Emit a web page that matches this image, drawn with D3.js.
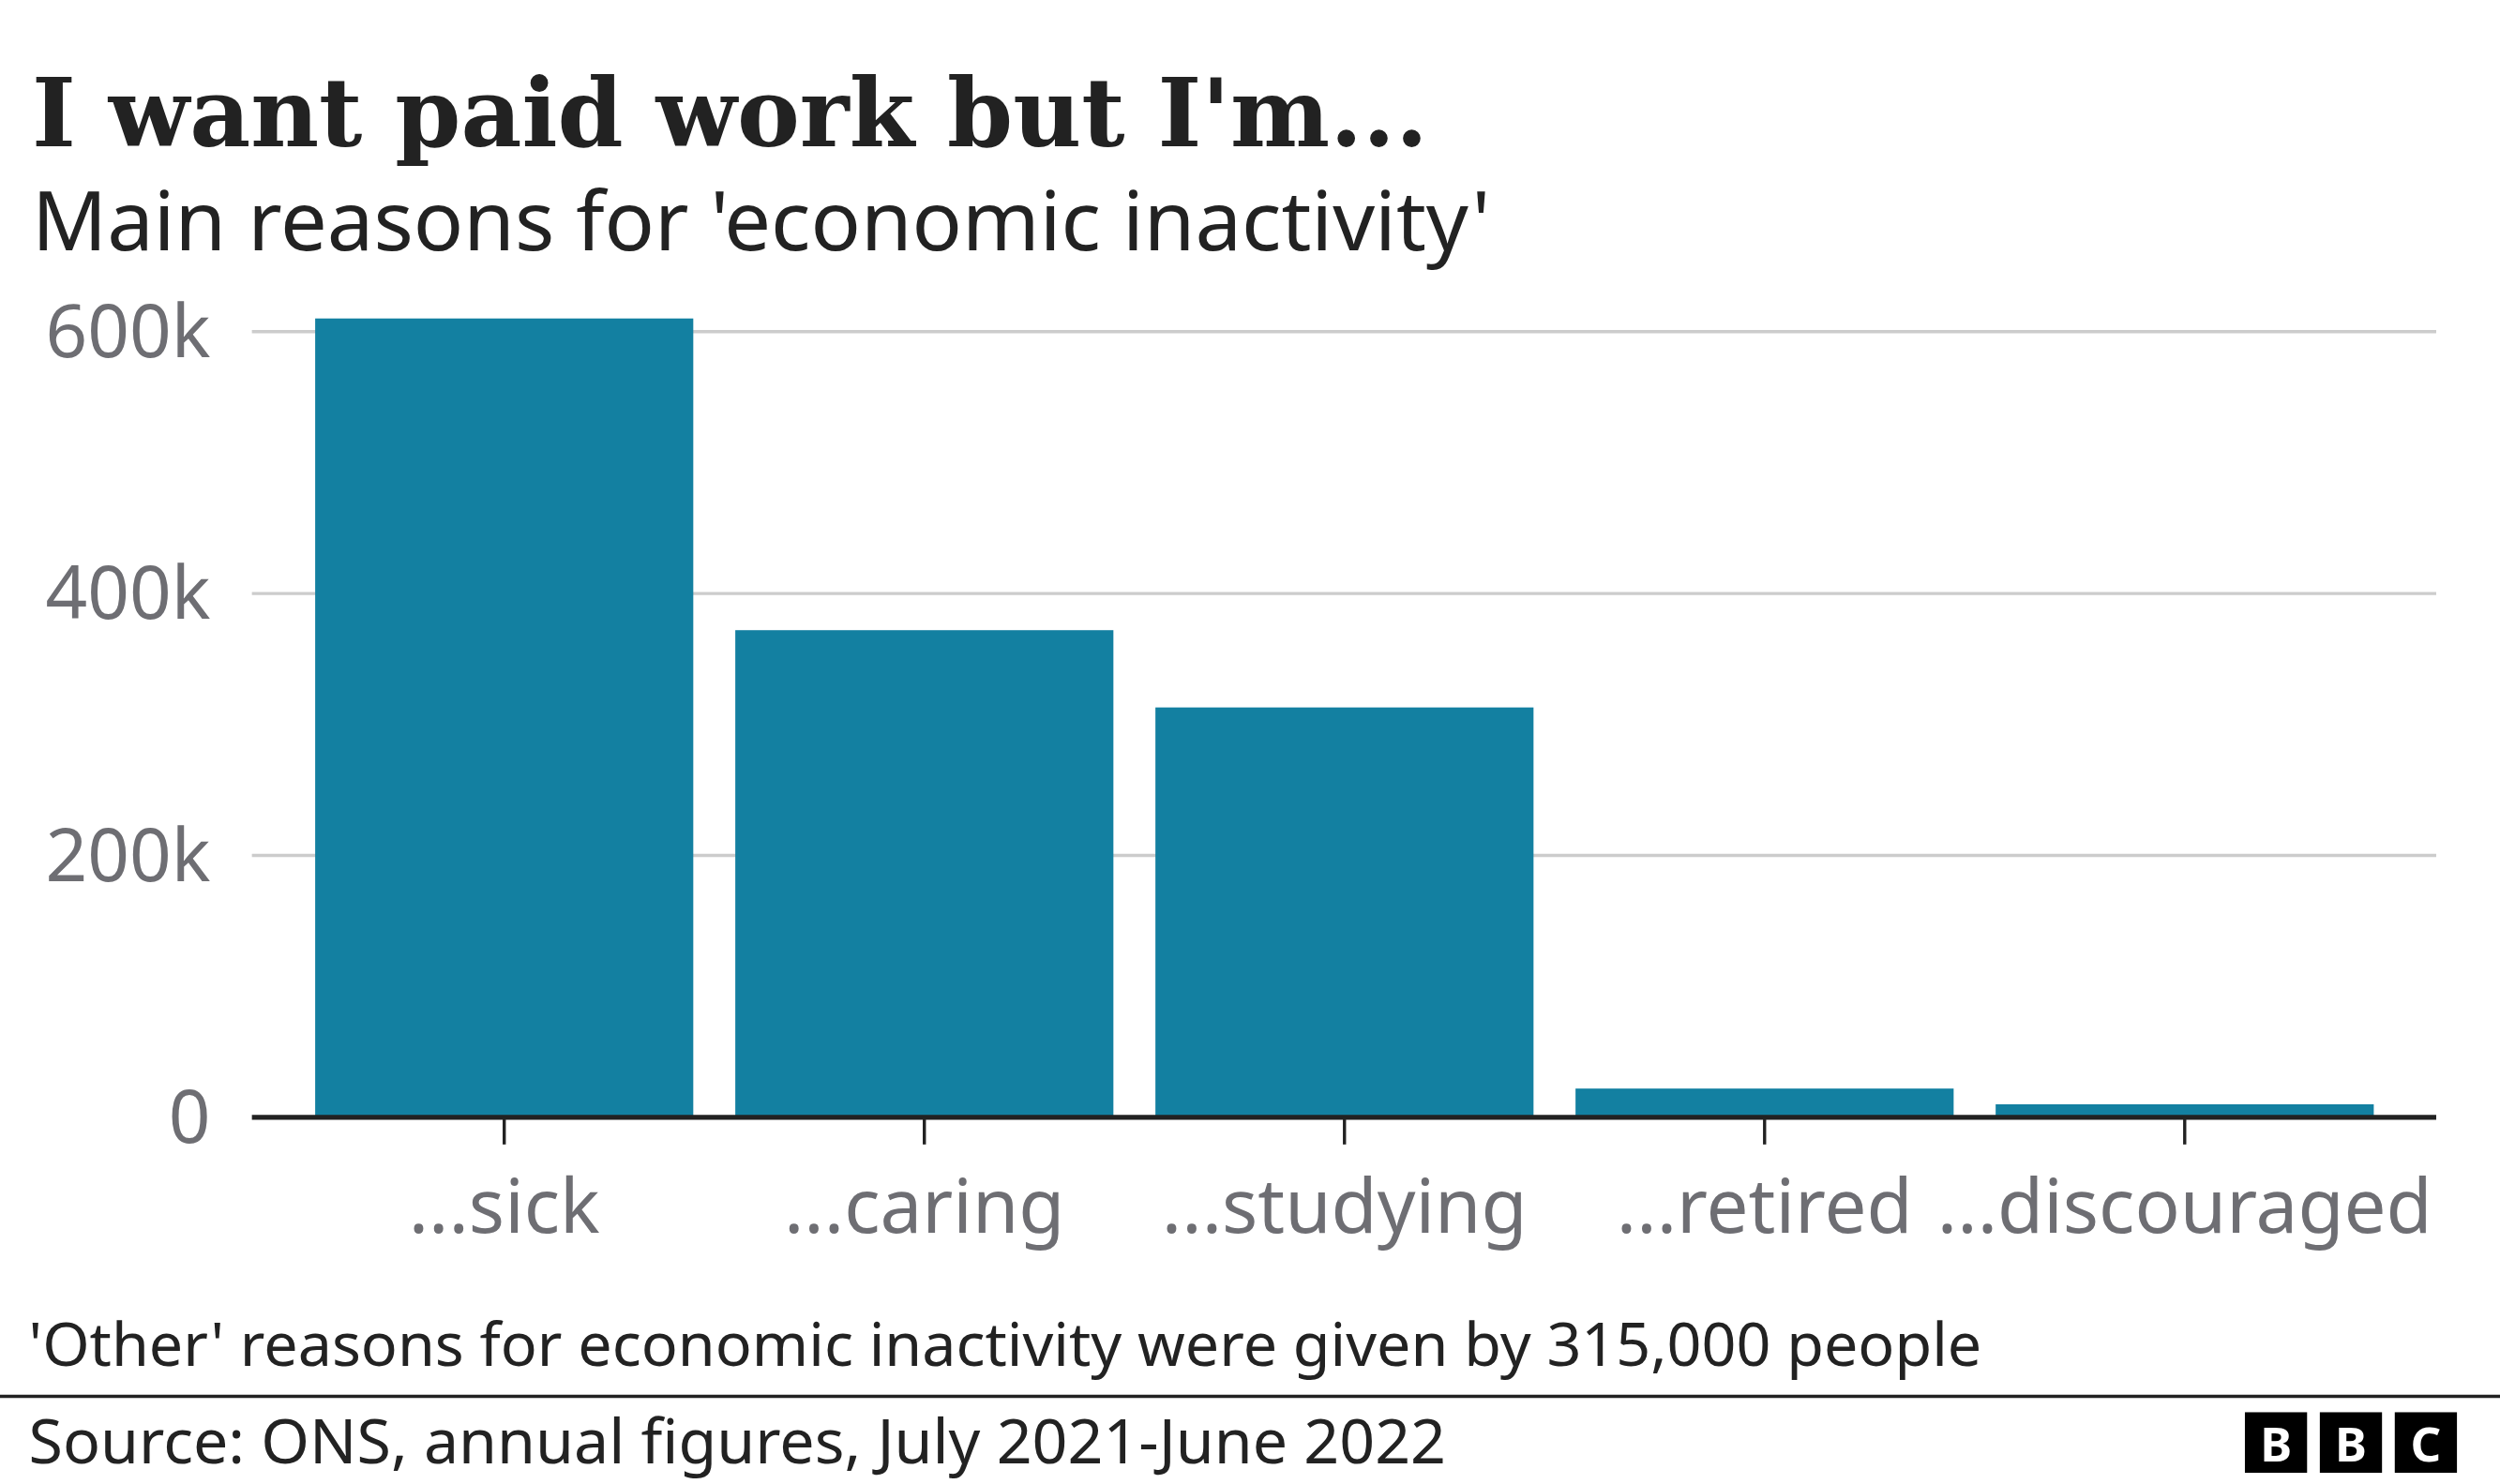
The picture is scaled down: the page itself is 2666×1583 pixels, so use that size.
<!DOCTYPE html>
<html>
<head>
<meta charset="utf-8">
<script src="https://cdn.jsdelivr.net/npm/d3@7"></script>
<style>
  html, body { margin: 0; padding: 0; background: #fff; }
  svg { display: block; }
  text { font-family: "Noto Sans", "Open Sans", sans-serif; }
</style>
</head>
<body>
<svg id="chart" width="2666" height="1583" viewBox="0 0 1568 931"></svg>
<script>
// chart data
const categories = ["...sick", "...caring", "...studying", "...retired", "...discouraged"];
const values = [610000, 372000, 313000, 22000, 10000];
const yTicks = [0, 200000, 400000, 600000];
const yTickLabels = ["0", "200k", "400k", "600k"];

const svg = d3.select("#chart");

// titles
svg.append("text").attr("x", 20).attr("y", 92)
  .style("font-family", "'DejaVu Serif', serif").style("font-weight", "bold")
  .style("font-size", "59px").attr("fill", "#222")
  .text("I want paid work but I'm...");
svg.append("text").attr("x", 20).attr("y", 157)
  .style("font-size", "52px").attr("fill", "#222")
  .text("Main reasons for 'economic inactivity'");

const x = d3.scaleBand().domain(categories).range([184.5, 1502]).paddingInner(0.1).paddingOuter(0.05);
const y = d3.scaleLinear().domain([0, 600000]).range([701, 208]);

// gridlines
svg.append("g").selectAll("line").data(yTicks.slice(1)).join("line")
  .attr("x1", 158).attr("x2", 1528)
  .attr("y1", d => y(d)).attr("y2", d => y(d))
  .attr("stroke", "#cccccc").attr("stroke-width", 2);

// y labels
svg.append("g").selectAll("text").data(yTicks).join("text")
  .attr("x", 132).attr("y", d => y(d) + 16)
  .attr("text-anchor", "end").style("font-size", "46px").attr("fill", "#6e6e73")
  .text((d, i) => yTickLabels[i]);

// bars
svg.append("g").selectAll("rect").data(values).join("rect")
  .attr("x", (d, i) => x(categories[i]))
  .attr("width", x.bandwidth())
  .attr("y", d => y(d))
  .attr("height", d => y(0) - y(d))
  .attr("fill", "#1380a1");

// x axis
const xAxis = svg.append("g").attr("transform", `translate(0,${y(0)})`)
  .call(d3.axisBottom(x).tickSize(17).tickPadding(22));
xAxis.select(".domain").remove();
xAxis.selectAll(".tick line").attr("stroke", "#222").attr("stroke-width", 2);
xAxis.selectAll(".tick text").style("font-size", "47px").attr("fill", "#6e6e73")
  .style("font-family", "'Noto Sans', sans-serif");
svg.append("line").attr("x1", 158).attr("x2", 1528)
  .attr("y1", y(0)).attr("y2", y(0)).attr("stroke", "#222").attr("stroke-width", 3);

// footnote and source
svg.append("text").attr("x", 18).attr("y", 857)
  .style("font-size", "38px").attr("fill", "#222")
  .text("'Other' reasons for economic inactivity were given by 315,000 people");
svg.append("line").attr("x1", 0).attr("x2", 1568).attr("y1", 876).attr("y2", 876)
  .attr("stroke", "#222").attr("stroke-width", 2);
svg.append("text").attr("x", 18).attr("y", 918)
  .style("font-size", "39px").attr("fill", "#222")
  .text("Source: ONS, annual figures, July 2021-June 2022");

// BBC logo
const logo = svg.append("g").attr("transform", "translate(1408,886)");
["B", "B", "C"].forEach((l, i) => {
  logo.append("rect").attr("x", i * 47).attr("width", 39).attr("height", 38).attr("fill", "#000");
  logo.append("text").attr("x", i * 47 + 19.5).attr("y", 31).attr("text-anchor", "middle")
    .style("font-size", "30px").style("font-weight", "bold").attr("fill", "#fff").text(l);
});
</script>
</body>
</html>
